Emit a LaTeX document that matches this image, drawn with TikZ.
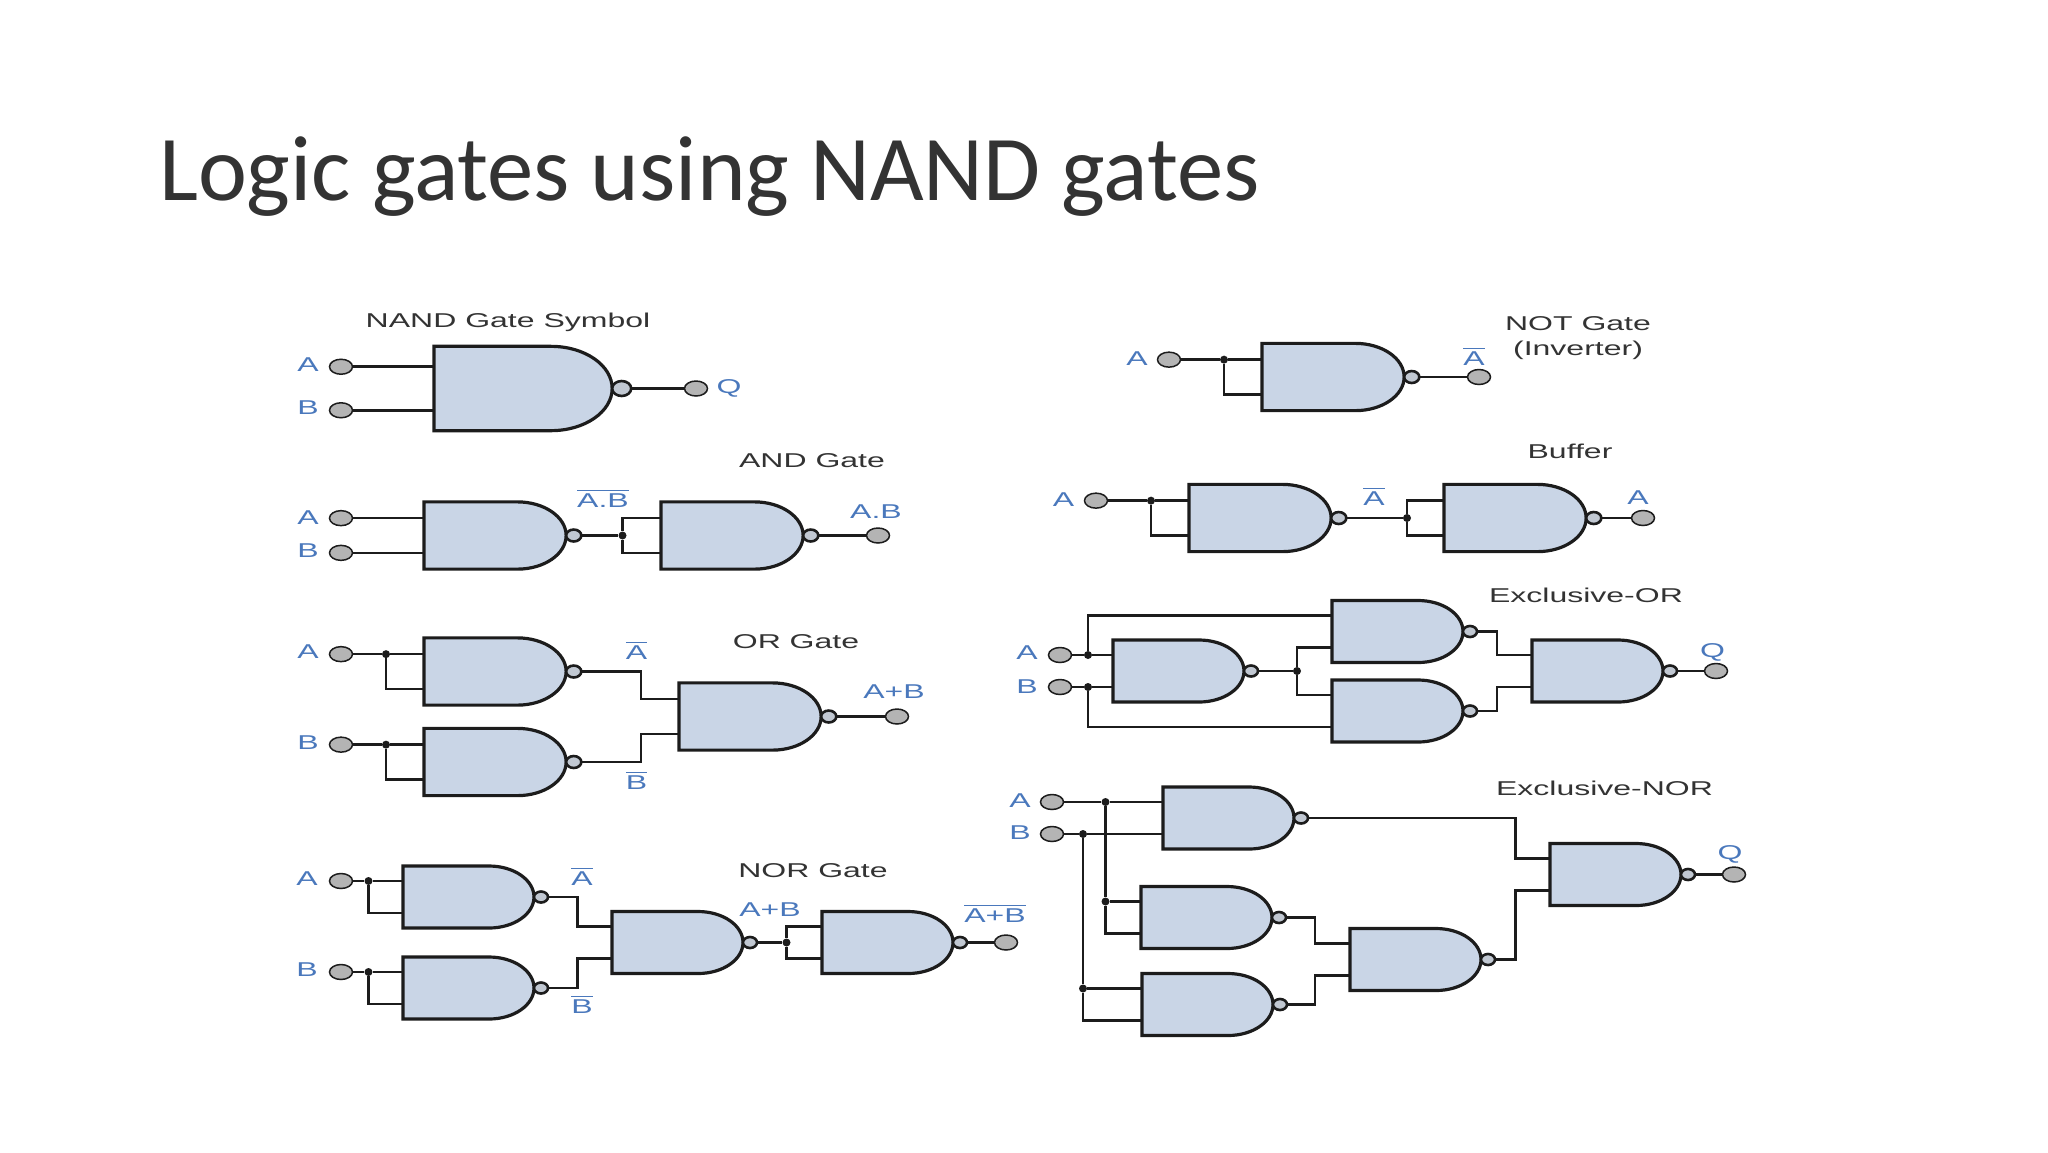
\documentclass[tikz,border=0pt]{standalone}
\usepackage{fontspec}
\usetikzlibrary{shapes.geometric}
\setmainfont{Carlito}
\newfontfamily\gatefont[FakeStretch=1.6]{Liberation Sans}
\definecolor{gatefill}{HTML}{C9D5E6}
\definecolor{gateline}{HTML}{1C1C1C}
\definecolor{pinfill}{HTML}{B4B4B4}
\definecolor{labelblue}{HTML}{4A78BC}
\definecolor{captiongray}{HTML}{333333}
\newcommand{\ovl}[1]{\leavevmode\vbox{\hrule height 1.4pt\kern 2.5pt\hbox{#1}}}
\tikzset{
  pin/.style     = {ellipse, draw=gateline, line width=1.5pt, fill=pinfill,
                    inner sep=0pt, minimum width=23pt, minimum height=15pt},
  dot/.style     = {circle, fill=gateline, inner sep=0pt, minimum size=8pt},
  wire/.style    = {draw=gateline, line width=2.6pt},
  txt/.style     = {font=\gatefont\fontsize{20}{23}\selectfont, inner sep=0pt,
                    text height=13pt, text depth=0pt},
  sig/.style     = {txt, text=labelblue},
  caption/.style = {txt, text=captiongray},
  stdgate/.style = {scale=1.085},
  biggate/.style = {scale=1.36},
  nandgate/.pic  = {
    \draw[line width=3.2pt, draw=gateline, fill=gatefill] (0,-31) -- (86,-31)
      .. controls (111,-31) and (131,-17) .. (131,0)
      .. controls (131,17) and (111,31) .. (86,31) -- (0,31) -- cycle;
    \draw[line width=2.6pt, draw=gateline, fill=gatefill!60!pinfill] (138,0) circle [x radius=7, y radius=5.5];
    \coordinate (-a) at (0,-16);
    \coordinate (-b) at (0,16);
    \coordinate (-o) at (145,0);
  }
}
\begin{document}
\begin{tikzpicture}[x=1pt, y=-1pt]
    \useasboundingbox (0,0) rectangle (2048,1152);

    \node[anchor=base west, font=\fontsize{92.7}{110}\selectfont, text=black!80, inner sep=0pt] (title) at (159,200) {Logic gates using NAND gates};

    % NAND symbol
    \node[caption] (tnand) at (508,321) {NAND Gate Symbol};
    \pic[biggate] (nand) at (434,388.5) {nandgate};
    \node[pin] (nanda) at (341,0 |- nand-a) {};
    \node[pin] (nandb) at (341,0 |- nand-b) {};
    \node[pin] (nandq) at (696,0 |- nand-o) {};
    \node[sig] (la1) at (308,365) {A};
    \node[sig] (lb1) at (308,408) {B};
    \node[sig] (lq1) at (729,387) {Q};
    \draw[wire] (nanda) -- (nand-a);
    \draw[wire] (nandb) -- (nand-b);
    \draw[wire] (nand-o) -- (nandq);

    % AND
    \node[caption] (tand) at (812,461) {AND Gate};
    \pic[stdgate] (and1) at (424,535.5) {nandgate};
    \pic[stdgate] (and2) at (661,535.5) {nandgate};
    \node[pin] (anda) at (341,0 |- and1-a) {};
    \node[pin] (andb) at (341,0 |- and1-b) {};
    \node[pin] (andq) at (878,0 |- and2-o) {};
    \node[dot] (andj) at (622.5,0 |- and2-o) {};
    \node[sig] (la2) at (308,518) {A};
    \node[sig] (lb2) at (308,551) {B};
    \node[sig] (lab1) at (603,501) {\ovl{A.B}};
    \node[sig] (lab2) at (876,512) {A.B};
    \draw[wire] (anda) -- (and1-a);
    \draw[wire] (andb) -- (and1-b);
    \draw[wire] (and1-o) -- (andj);
    \draw[wire] (andj) |- (and2-a);
    \draw[wire] (andj) |- (and2-b);
    \draw[wire] (and2-o) -- (andq);

    % OR
    \node[caption] (tor) at (796,642) {OR Gate};
    \pic[stdgate] (or1) at (424,671.5) {nandgate};
    \pic[stdgate] (or2) at (424,762) {nandgate};
    \pic[stdgate] (or3) at (679,716.5) {nandgate};
    \node[pin] (ora) at (341,0 |- or1-a) {};
    \node[pin] (orb) at (341,0 |- or2-a) {};
    \node[pin] (orq) at (897,0 |- or3-o) {};
    \node[dot] (orj1) at (386,0 |- or1-a) {};
    \node[dot] (orj2) at (386,0 |- or2-a) {};
    \node[sig] (la3) at (308,652) {A};
    \node[sig] (lb3) at (308,743) {B};
    \node[sig] (lna3) at (636.5,653) {\ovl{A}};
    \node[sig] (lnb3) at (636.5,783) {\ovl{B}};
    \node[sig] (lor) at (894,692) {A+B};
    \draw[wire] (ora) -- (orj1);
    \draw[wire] (orj1) -- (or1-a);
    \draw[wire] (orj1) |- (or1-b);
    \draw[wire] (orb) -- (orj2);
    \draw[wire] (orj2) -- (or2-a);
    \draw[wire] (orj2) |- (or2-b);
    \draw[wire] (or1-o) -| (641,0 |- or3-a) -- (or3-a);
    \draw[wire] (or2-o) -| (641,0 |- or3-b) -- (or3-b);
    \draw[wire] (or3-o) -- (orq);

    % NOR
    \node[caption] (tnor) at (813,871) {NOR Gate};
    \pic (nor1) at (403,897) {nandgate};
    \pic (nor2) at (403,988) {nandgate};
    \pic (nor3) at (612,942.5) {nandgate};
    \pic (nor4) at (822,942.5) {nandgate};
    \node[pin] (nora) at (341,0 |- nor1-a) {};
    \node[pin] (norb) at (341,0 |- nor2-a) {};
    \node[pin] (norq) at (1006,0 |- nor4-o) {};
    \node[dot] (norj1) at (368.5,0 |- nor1-a) {};
    \node[dot] (norj2) at (368.5,0 |- nor2-a) {};
    \node[dot] (norj3) at (786.5,0 |- nor4-o) {};
    \node[sig] (la4) at (307,879) {A};
    \node[sig] (lb4) at (307,970) {B};
    \node[sig] (lna4) at (582,879) {\ovl{A}};
    \node[sig] (lnb4) at (582,1007) {\ovl{B}};
    \node[sig] (lor4) at (770,910) {A+B};
    \node[sig] (lnor) at (995,916) {\ovl{A+B}};
    \draw[wire] (nora) -- (norj1);
    \draw[wire] (norj1) -- (nor1-a);
    \draw[wire] (norj1) |- (nor1-b);
    \draw[wire] (norb) -- (norj2);
    \draw[wire] (norj2) -- (nor2-a);
    \draw[wire] (norj2) |- (nor2-b);
    \draw[wire] (nor1-o) -| (577.5,0 |- nor3-a) -- (nor3-a);
    \draw[wire] (nor2-o) -| (577.5,0 |- nor3-b) -- (nor3-b);
    \draw[wire] (nor3-o) -- (norj3);
    \draw[wire] (norj3) |- (nor4-a);
    \draw[wire] (norj3) |- (nor4-b);
    \draw[wire] (nor4-o) -- (norq);

    % NOT
    \node[caption] (tnot1) at (1578,324) {NOT Gate};
    \node[caption] (tnot2) at (1578,349) {(Inverter)};
    \pic[stdgate] (not1) at (1262,377) {nandgate};
    \node[pin] (nota) at (1169,0 |- not1-a) {};
    \node[pin] (notq) at (1479,0 |- not1-o) {};
    \node[dot] (notj) at (1224,0 |- not1-a) {};
    \node[sig] (la5) at (1137,359) {A};
    \node[sig] (lna5) at (1474,359) {\ovl{A}};
    \draw[wire] (nota) -- (notj);
    \draw[wire] (notj) -- (not1-a);
    \draw[wire] (notj) |- (not1-b);
    \draw[wire] (not1-o) -- (notq);

    % Buffer
    \node[caption] (tbuf) at (1570,452) {Buffer};
    \pic[stdgate] (buf1) at (1189,518) {nandgate};
    \pic[stdgate] (buf2) at (1444,518) {nandgate};
    \node[pin] (bufa) at (1096,0 |- buf1-a) {};
    \node[pin] (bufq) at (1643,0 |- buf2-o) {};
    \node[dot] (bufj1) at (1151,0 |- buf1-a) {};
    \node[dot] (bufj2) at (1407,0 |- buf2-o) {};
    \node[sig] (la6) at (1063.5,500) {A};
    \node[sig] (lna6) at (1374,499) {\ovl{A}};
    \node[sig] (lq6) at (1638,498) {A};
    \draw[wire] (bufa) -- (bufj1);
    \draw[wire] (bufj1) -- (buf1-a);
    \draw[wire] (bufj1) |- (buf1-b);
    \draw[wire] (buf1-o) -- (bufj2);
    \draw[wire] (bufj2) |- (buf2-a);
    \draw[wire] (bufj2) |- (buf2-b);
    \draw[wire] (buf2-o) -- (bufq);

    % XOR
    \node[caption] (txor) at (1586,596) {Exclusive-OR};
    \pic (xor1) at (1113,671) {nandgate};
    \pic (xor2) at (1332,631.5) {nandgate};
    \pic (xor3) at (1332,711) {nandgate};
    \pic (xor4) at (1532,671) {nandgate};
    \node[pin] (xora) at (1060,0 |- xor1-a) {};
    \node[pin] (xorb) at (1060,0 |- xor1-b) {};
    \node[pin] (xorq) at (1716,0 |- xor4-o) {};
    \node[dot] (xorj1) at (1088,0 |- xor1-a) {};
    \node[dot] (xorj2) at (1088,0 |- xor1-b) {};
    \node[dot] (xorj3) at (1297,0 |- xor1-o) {};
    \node[sig] (la7) at (1027,653) {A};
    \node[sig] (lb7) at (1027,687) {B};
    \node[sig] (lq7) at (1712.5,651) {Q};
    \draw[wire] (xora) -- (xorj1);
    \draw[wire] (xorj1) -- (xor1-a);
    \draw[wire] (xorb) -- (xorj2);
    \draw[wire] (xorj2) -- (xor1-b);
    \draw[wire] (xorj1) |- (xor2-a);
    \draw[wire] (xorj2) |- (xor3-b);
    \draw[wire] (xor1-o) -- (xorj3);
    \draw[wire] (xorj3) |- (xor2-b);
    \draw[wire] (xorj3) |- (xor3-a);
    \draw[wire] (xor2-o) -| (1497,0 |- xor4-a) -- (xor4-a);
    \draw[wire] (xor3-o) -| (1497,0 |- xor4-b) -- (xor4-b);
    \draw[wire] (xor4-o) -- (xorq);

    % XNOR
    \node[caption] (txnor) at (1604.5,789) {Exclusive-NOR};
    \pic (xnor1) at (1163,818) {nandgate};
    \pic (xnor2) at (1141,917.5) {nandgate};
    \pic (xnor3) at (1142,1004.5) {nandgate};
    \pic (xnor4) at (1350,959.5) {nandgate};
    \pic (xnor5) at (1550,874.5) {nandgate};
    \node[pin] (xnora) at (1052,0 |- xnor1-a) {};
    \node[pin] (xnorb) at (1052,0 |- xnor1-b) {};
    \node[pin] (xnorq) at (1734,0 |- xnor5-o) {};
    \node[dot] (xnorj1) at (1105.5,0 |- xnor1-a) {};
    \node[dot] (xnorj2) at (1083,0 |- xnor1-b) {};
    \node[dot] (xnorj3) at (1105.5,0 |- xnor2-a) {};
    \node[dot] (xnorj4) at (1083,0 |- xnor3-a) {};
    \node[sig] (la8) at (1020,801) {A};
    \node[sig] (lb8) at (1020,833) {B};
    \node[sig] (lq8) at (1730,853) {Q};
    \draw[wire] (xnora) -- (xnorj1);
    \draw[wire] (xnorj1) -- (xnor1-a);
    \draw[wire] (xnorb) -- (xnorj2);
    \draw[wire] (xnorj2) -- (xnor1-b);
    \draw[wire] (xnorj1) -- (xnorj3);
    \draw[wire] (xnorj3) -- (xnor2-a);
    \draw[wire] (xnorj3) |- (xnor2-b);
    \draw[wire] (xnorj2) -- (xnorj4);
    \draw[wire] (xnorj4) -- (xnor3-a);
    \draw[wire] (xnorj4) |- (xnor3-b);
    \draw[wire] (xnor2-o) -| (1315,0 |- xnor4-a) -- (xnor4-a);
    \draw[wire] (xnor3-o) -| (1315,0 |- xnor4-b) -- (xnor4-b);
    \draw[wire] (xnor1-o) -| (1515.5,0 |- xnor5-a) -- (xnor5-a);
    \draw[wire] (xnor4-o) -| (1515.5,0 |- xnor5-b) -- (xnor5-b);
    \draw[wire] (xnor5-o) -- (xnorq);

\end{tikzpicture}
\end{document}
